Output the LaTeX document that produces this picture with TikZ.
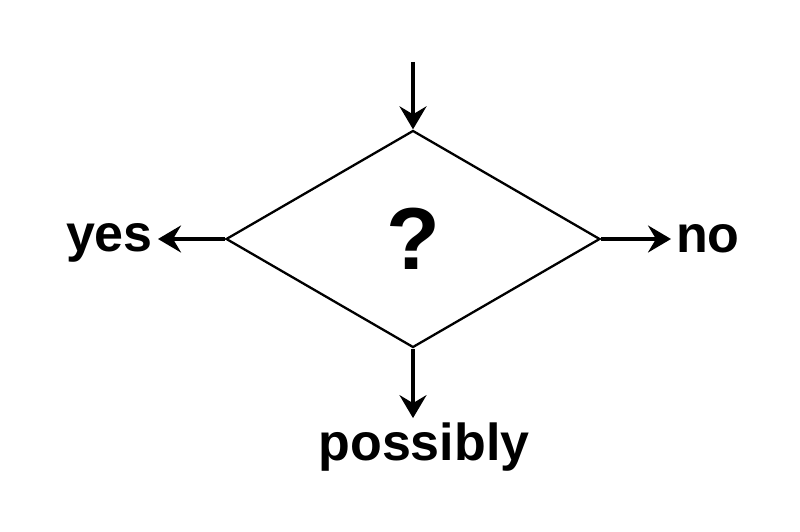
\documentclass[tikz,border=0pt]{standalone}
\usepackage{fontspec}
\setmainfont{Liberation Sans}
\usetikzlibrary{shapes.geometric,arrows.meta,positioning}

\tikzset{
  flow/.style={line width=3.5pt, -{Stealth[length=23pt, width=27pt, inset=8pt]}},
  answer/.style={font=\bfseries\fontsize{52}{52}\selectfont, inner sep=5pt},
}

\begin{document}
\begin{tikzpicture}[x=1pt, y=1pt]
  \useasboundingbox (0,0) rectangle (800,532);
  % Decision
  \node[diamond, draw, line width=2.3pt, minimum width=374pt, minimum height=217pt,
        inner sep=0pt, font=\bfseries\fontsize{88}{88}\selectfont] (q) at (413,293) {?};
  \coordinate (in) at (413,470);

  % Answers
  \node[answer, anchor=base east] (yes) at (158,280) {yes};
  \node[answer, anchor=base west] (no) at (671,279) {no};
  \node[answer, anchor=base] (maybe) at (424,71) {possibly};

  \draw[flow] (in) -- (q.north);
  \draw[flow] (q.west) -- (q.west -| yes.east);
  \draw[flow] (q.east) -- (q.east -| no.west);
  \draw[flow] (q.south) -- (q.south |- maybe.north);
\end{tikzpicture}
\end{document}
